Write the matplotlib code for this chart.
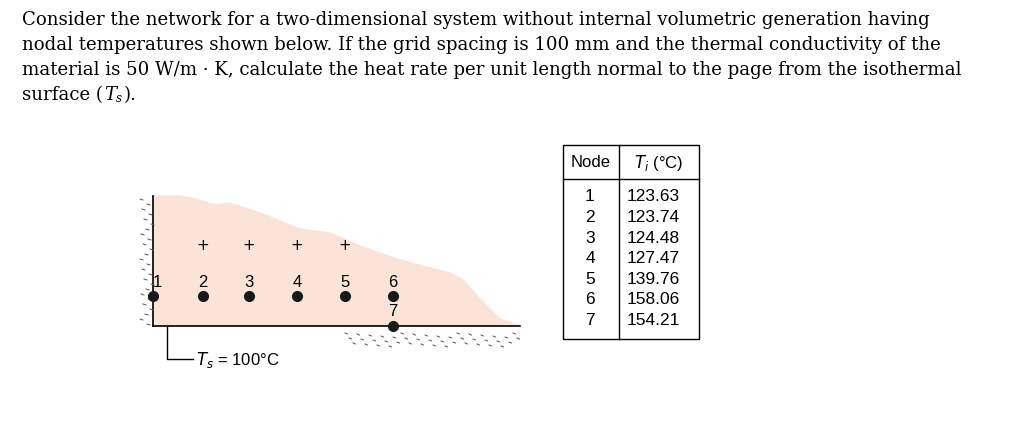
import matplotlib
matplotlib.use("Agg")
import matplotlib.pyplot as plt
import numpy as np

nodes = ["1", "2", "3", "4", "5", "6", "7"]
temps = [123.63, 123.74, 124.48, 127.47, 139.76, 158.06, 154.21]
text_lines = [
    "Consider the network for a two-dimensional system without internal volumetric generation having",
    "nodal temperatures shown below. If the grid spacing is 100 mm and the thermal conductivity of the",
    "material is 50 W/m \u00b7 K, calculate the heat rate per unit length normal to the page from the isothermal",
    "surface (",
]

fig = plt.figure(figsize=(10.24, 4.31), dpi=100)
ax = fig.add_axes([0, 0, 1, 1])
ax.set_xlim(0, 1024); ax.set_ylim(431, 0); ax.axis("off")

FS = 13.05
for i, l in enumerate(text_lines):
    t = ax.text(22, 20 + 25 * i, l, family="DejaVu Serif", fontsize=FS, va="center", ha="left")
fig.canvas.draw()
x_end = t.get_window_extent().x1
yb = 431 - 95
ax.annotate("T", xy=(x_end + 1, yb), xycoords="figure pixels", family="DejaVu Serif",
            style="italic", fontsize=FS, va="center", ha="left")
ax.annotate("s", xy=(x_end + 13, yb - 4), xycoords="figure pixels", family="DejaVu Serif",
            style="italic", fontsize=8.5, va="center", ha="left")
ax.annotate(").", xy=(x_end + 21, yb), xycoords="figure pixels", family="DejaVu Serif",
            fontsize=FS, va="center", ha="left")

# pink shape
top = [(153,197),(180,197),(192,199),(215,206),(230,204),(260,214),(300,230),(330,234),
       (360,247),(400,261),(450,274),(462,280),(480,300),(500,320),(520,327)]
poly = [(153,327)] + top + [(153,327)]
ax.fill([p[0] for p in poly], [p[1] for p in poly], color="#fbe3d8", zorder=1)
ax.plot([153,153],[197,327], color="black", lw=1.2, zorder=2)
ax.plot([153,520],[327,327], color="black", lw=1.2, zorder=2)
for k in range(26):
    x = 140 + (k*7) % 12; y = 200 + k*5
    ax.plot([x, x+3], [y, y+1], color="#555", lw=0.7)
for k in range(44):
    x = 345 + k*4; y = 334 + (k*5) % 14
    ax.plot([x, x+2.5], [y, y+1], color="#555", lw=0.7)

node_x = [153, 203, 249, 297, 345, 393]
for i, x in enumerate(node_x):
    ax.plot(x, 297, "o", color="#1a1a1a", ms=7, zorder=3)
    ax.text(x + (4 if i == 0 else 0), 283, nodes[i], ha="center", va="center", fontsize=12, family="Liberation Sans", zorder=3)
ax.plot(393, 327, "o", color="#1a1a1a", ms=7, zorder=3)
ax.text(393, 312, nodes[6], ha="center", va="center", fontsize=12, family="Liberation Sans", zorder=3)
for x in node_x[1:5]:
    ax.text(x, 246, "+", ha="center", va="center", fontsize=11, zorder=3)

ax.plot([167,167,193],[327,360,360], color="black", lw=1)
ax.text(196, 360, "$T_s$ = 100\u00b0C", va="center", ha="left", fontsize=12, family="Liberation Sans")

# table
ax.add_patch(plt.Rectangle((563,146), 136, 194, fill=False, lw=1))
ax.plot([563,699],[180,180], color="black", lw=1)
ax.plot([619,619],[146,340], color="black", lw=1)
ax.text(591, 163, "Node", ha="center", va="center", fontsize=12, family="Liberation Sans")
ax.text(659, 163, "$T_i$ (\u00b0C)", ha="center", va="center", fontsize=12, family="Liberation Sans")
for i, (n, t) in enumerate(zip(nodes, temps)):
    y = 197 + i * 20.6
    ax.text(590, y, n, ha="center", va="center", fontsize=12.5, family="Liberation Sans")
    ax.text(627, y, f"{t:.2f}", ha="left", va="center", fontsize=12.5, family="Liberation Sans")

fig.savefig("out.png", dpi=100)
